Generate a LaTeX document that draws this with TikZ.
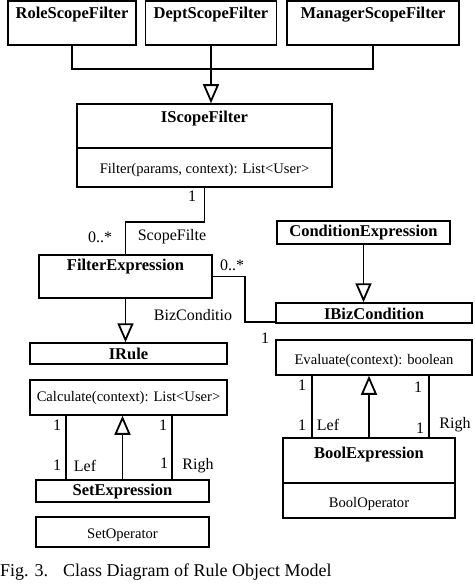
\documentclass[tikz,border=0pt]{standalone}
\usepackage{fontspec}
\setmainfont{Liberation Serif}
\usetikzlibrary{arrows.meta}

\begin{document}
\begin{tikzpicture}[x=1pt, y=-1pt]

	\tikzstyle{class_box}=[rectangle, draw=black, line width=1.5pt, inner sep=0pt]
	\tikzstyle{class_name}=[font=\fontsize{16.5}{18}\selectfont\bfseries, inner sep=1pt]
	\tikzstyle{member_text}=[font=\fontsize{14.6}{16}\selectfont, inner sep=1pt]
	\tikzstyle{role_label}=[font=\fontsize{16}{18}\selectfont, inner sep=0pt]
	\tikzstyle{link}=[line width=1.8pt]
	\tikzstyle{inherit}=[line width=1.8pt, -{Triangle[open, width=16pt, length=19pt]}]

	\useasboundingbox (0, 0) rectangle (474, 585);

	% scope filters
	\node[class_box, minimum width=128, minimum height=44] at (72, 23) (role_filter) {};
	\node[class_box, minimum width=131, minimum height=44] at (211, 23) (dept_filter) {};
	\node[class_box, minimum width=172, minimum height=44] at (373, 23) (manager_filter) {};
	\node[class_name] at (72, 15) (role_name) {RoleScopeFilter};
	\node[class_name] at (211, 15) (dept_name) {DeptScopeFilter};
	\node[class_name] at (373, 15) (manager_name) {ManagerScopeFilter};

	\node[class_box, minimum width=255, minimum height=44] at (204.5, 126) (iscope_name) {};
	\node[class_box, minimum width=255, minimum height=39] at (204.5, 167.5) (iscope_method) {};
	\node[class_name] at (204.5, 119) (iscope_title) {IScopeFilter};
	\node[member_text] at (204.5, 170) (iscope_text) {Filter(params, context): List<User>};

	% expressions
	\node[class_box, minimum width=173, minimum height=43] at (125.5, 276.5) (filter_expr) {};
	\node[class_name] at (125.5, 267) (filter_title) {FilterExpression};
	\node[class_box, minimum width=173, minimum height=23] at (363.5, 232.5) (cond_expr) {};
	\node[class_name] at (363.5, 232.5) (cond_title) {ConditionExpression};
	\node[class_box, minimum width=196, minimum height=20] at (374, 313) (ibiz_cond) {};
	\node[class_name] at (374, 313.5) (ibiz_title) {IBizCondition};
	\node[class_box, minimum width=196, minimum height=35] at (374, 357.5) (evaluate_box) {};
	\node[member_text] at (374, 361) (evaluate_text) {Evaluate(context): boolean};

	\node[class_box, minimum width=197, minimum height=21] at (128.5, 353.5) (irule) {};
	\node[class_name] at (128.5, 354) (irule_title) {IRule};
	\node[class_box, minimum width=197, minimum height=35] at (128.5, 397.5) (calc_rule) {};
	\node[member_text] at (128.5, 398) (calc_text) {Calculate(context): List<User>};

	\node[class_box, minimum width=173, minimum height=22] at (122.5, 491) (set_expr) {};
	\node[class_name] at (122.5, 491.5) (set_title) {SetExpression};
	\node[class_box, minimum width=173, minimum height=30] at (122.5, 532) (set_op) {};
	\node[member_text] at (122.5, 535) (set_op_text) {SetOperator};

	\node[class_box, minimum width=172, minimum height=45] at (369, 460.5) (bool_expr) {};
	\node[class_box, minimum width=172, minimum height=35] at (369, 500.5) (bool_op) {};
	\node[class_name] at (369, 455) (bool_title) {BoolExpression};
	\node[member_text] at (369, 504) (bool_op_text) {BoolOperator};

	\coordinate (filter_join) at (211, 69);
	\coordinate (biz_bend) at (245, 322);
	\coordinate (set_left) at (66, 480);
	\coordinate (set_right) at (172, 480);
	\coordinate (bool_left) at (312, 438);
	\coordinate (bool_right) at (429, 438);

	\draw[link] (role_filter.south) |- (filter_join) -| (manager_filter.south);
	\draw[inherit] (dept_filter.south) -- (dept_filter.south |- iscope_name.north);
	\draw[link] (iscope_method.south) -- ++(0, 34) -| (filter_expr.north);
	\draw[link] (filter_expr.east) -| (biz_bend) -- (biz_bend -| ibiz_cond.west);
	\draw[inherit] (cond_expr.south) -- (cond_expr.south |- ibiz_cond.north);
	\draw[inherit] (filter_expr.south) -- (filter_expr.south |- irule.north);
	\draw[inherit] (set_expr.north) -- (set_expr.north |- calc_rule.south);
	\draw[link] (set_left) -- (set_left |- calc_rule.south);
	\draw[link] (set_right) -- (set_right |- calc_rule.south);
	\draw[inherit] (bool_expr.north) -- (bool_expr.north |- evaluate_box.south);
	\draw[link] (bool_left) -- (bool_left |- evaluate_box.south);
	\draw[link] (bool_right) -- (bool_right |- evaluate_box.south);

	% role names and multiplicities
	\node[role_label] at (192, 196) (scope_one) {1};
	\node[role_label] at (100, 237) (scope_many) {0..*};
	\node[role_label] at (172, 237) (scope_role) {ScopeFilte};
	\node[role_label] at (232, 265) (biz_many) {0..*};
	\node[role_label] at (193, 315) (biz_role) {BizConditio};
	\node[role_label] at (265, 338) (biz_one) {1};

	\node[role_label] at (57, 425) (set_left_top) {1};
	\node[role_label] at (163, 425) (set_right_top) {1};
	\node[role_label] at (57, 465) (set_left_low) {1};
	\node[role_label] at (85, 466) (set_left_role) {Lef};
	\node[role_label] at (164, 463) (set_right_low) {1};
	\node[role_label] at (198, 466) (set_right_role) {Righ};

	\node[role_label] at (302, 385) (bool_left_top) {1};
	\node[role_label] at (418, 387) (bool_right_top) {1};
	\node[role_label] at (302, 425) (bool_left_low) {1};
	\node[role_label] at (328, 425) (bool_left_role) {Lef};
	\node[role_label] at (420, 428) (bool_right_low) {1};
	\node[role_label] at (455, 425) (bool_right_role) {Righ};

	\node[anchor=west, font=\fontsize{18}{20}\selectfont, inner sep=0pt] at (0, 572) (caption) {Fig. 3.\hspace{15pt}Class Diagram of Rule Object Model};
\end{tikzpicture}
\end{document}
